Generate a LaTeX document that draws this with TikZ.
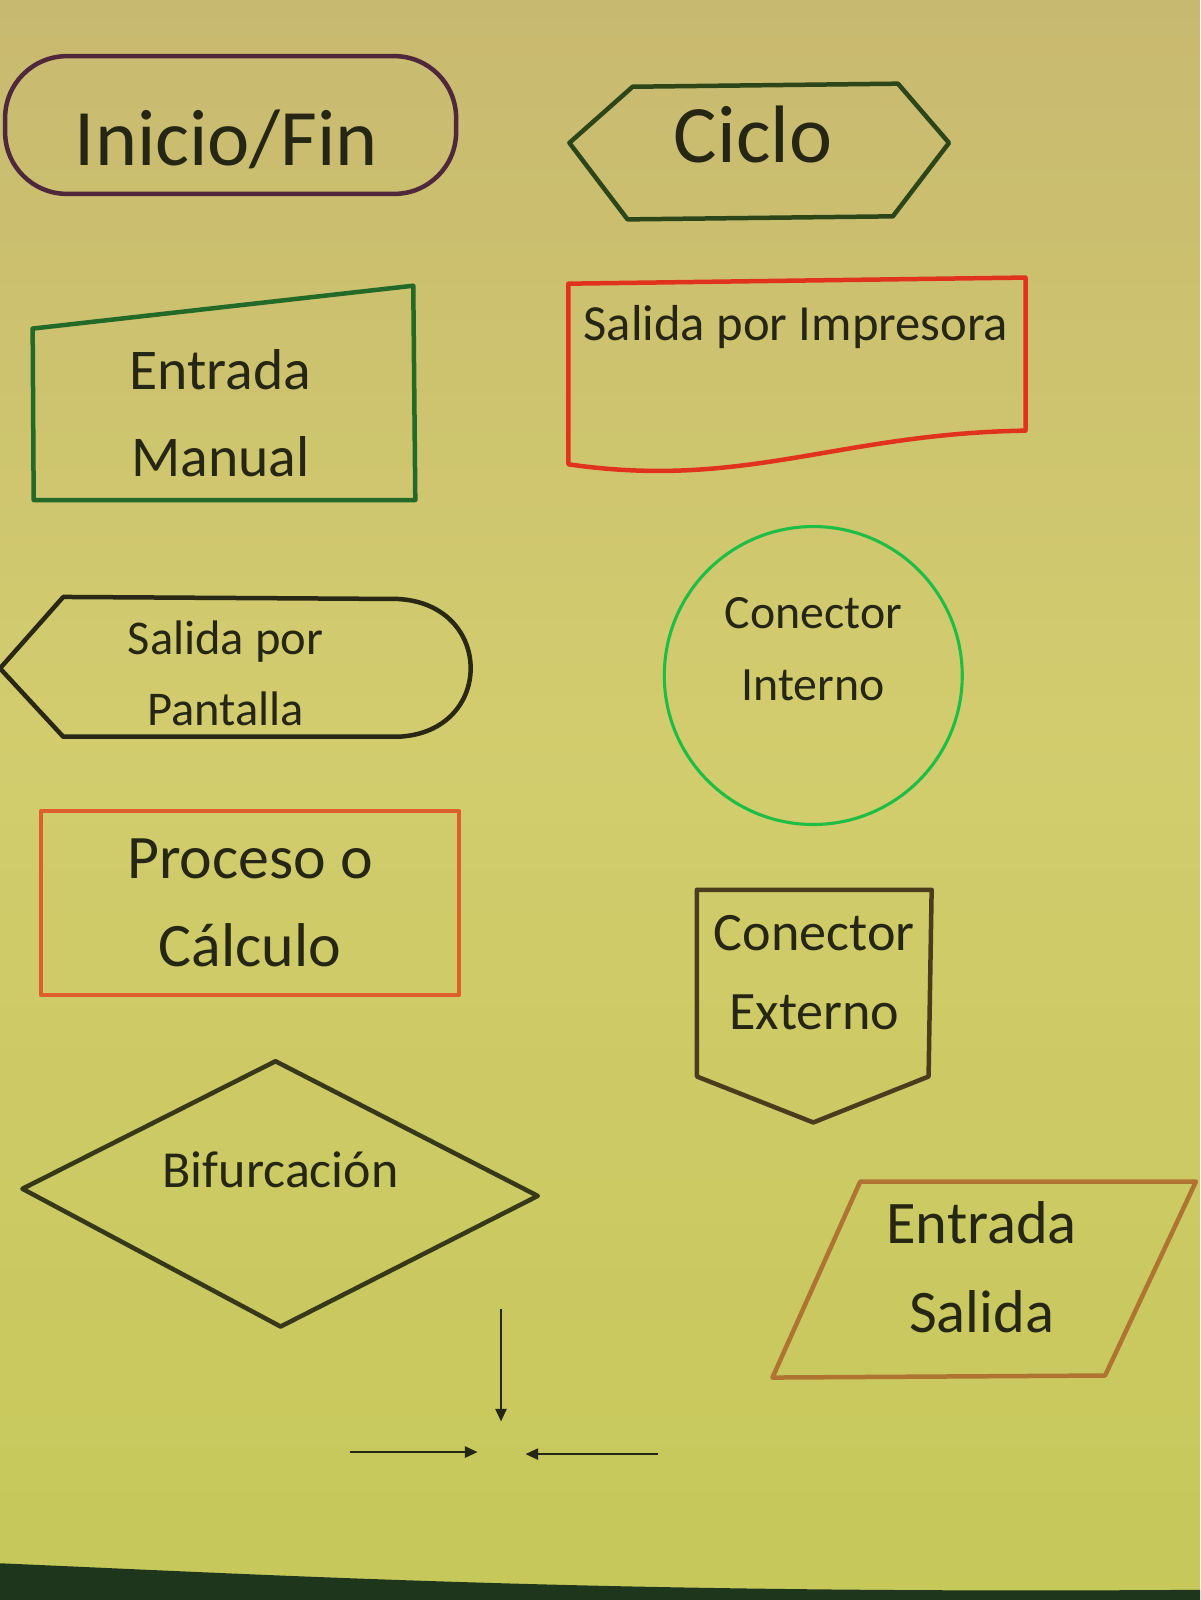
\documentclass[tikz,border=0pt]{standalone}
\usepackage{fontspec}
\setmainfont{Carlito}
\usetikzlibrary{arrows.meta}
\definecolor{txt}{RGB}{38,38,20}
\definecolor{cInicio}{RGB}{80,40,60}
\definecolor{cCiclo}{RGB}{45,70,25}
\definecolor{cManual}{RGB}{35,105,40}
\definecolor{cImpr}{RGB}{225,50,30}
\definecolor{cPant}{RGB}{40,40,20}
\definecolor{cInt}{RGB}{30,190,70}
\definecolor{cProc}{RGB}{220,95,45}
\definecolor{cExt}{RGB}{75,60,30}
\definecolor{cBif}{RGB}{55,55,25}
\definecolor{cES}{RGB}{175,115,50}
\definecolor{bgTop}{RGB}{200,185,112}
\definecolor{bgMid}{RGB}{210,204,110}
\definecolor{bgBot}{RGB}{198,200,90}
\definecolor{bgStrip}{RGB}{30,55,28}
\tikzset{
  shp/.style={line width=3.2pt, line join=round},
  lbl/.style={text=txt, align=center, inner sep=0pt},
  conn/.style={line width=1.4pt, draw=txt, -{Triangle[length=9pt,width=8pt]}},
}
\begin{document}
\begin{tikzpicture}[x=0.02551cm,y=-0.02551cm]
\useasboundingbox (0,0) rectangle (1176,1568);
\shade[top color=bgTop, bottom color=bgMid] (0,0) rectangle (1176,700);
\shade[top color=bgMid, bottom color=bgBot] (0,700) rectangle (1176,1568);
\fill[bgStrip] (0,1532) .. controls (300,1545) and (600,1562) .. (1176,1558) -- (1176,1568) -- (0,1568) -- cycle;

% Inicio/Fin
\draw[shp, draw=cInicio, rounded corners=44pt] (5,55) rectangle (447,190);
\node[lbl, font=\fontsize{57}{60}\selectfont] (inicio) at (222,137) {Inicio/Fin};

% Ciclo
\draw[shp, draw=cCiclo] (558,140) -- (620,85) -- (880,82) -- (930,140) -- (875,212) -- (615,215) -- cycle;
\node[lbl, font=\fontsize{58}{62}\selectfont] (ciclo) at (738,132) {Ciclo};

% Entrada Manual
\draw[shp, draw=cManual] (32,322) -- (405,280) -- (407,490) -- (33,490) -- cycle;
\node[lbl, font=\fontsize{41}{62}\selectfont] (manual) at (216,405) {Entrada\\Manual};

% Salida por Impresora
\draw[shp, draw=cImpr] (557,278) -- (1005,272) -- (1005,422) .. controls (820,425) and (730,480) .. (557,455) -- cycle;
\node[lbl, font=\fontsize{36}{40}\selectfont] (impr) at (780,320) {Salida por Impresora};

% Salida por Pantalla
\draw[shp, draw=cPant] (0,655) -- (62,585) -- (390,587) .. controls (485,592) and (485,718) .. (390,722) -- (62,722) -- cycle;
\node[lbl, font=\fontsize{34.5}{50}\selectfont] (pant) at (221,660) {Salida por\\Pantalla};

% Conector Interno
\draw[line width=2.2pt, draw=cInt] (797,662) circle [radius=146];
\node[lbl, font=\fontsize{34}{51}\selectfont] (cint) at (797,636) {Conector\\Interno};

% Proceso o Calculo
\draw[shp, draw=cProc] (40,795) rectangle (450,975);
\node[lbl, font=\fontsize{44}{63}\selectfont] (proc) at (245,885) {Proceso o\\Cálculo};

% Conector Externo
\draw[shp, draw=cExt] (683,872) -- (913,872) -- (910,1055) -- (797,1100) -- (683,1055) -- cycle;
\node[lbl, font=\fontsize{38.5}{56}\selectfont] (cext) at (798,953) {Conector\\Externo};

% Bifurcacion
\draw[shp, draw=cBif] (22,1165) -- (270,1040) -- (527,1172) -- (275,1300) -- cycle;
\node[lbl, font=\fontsize{37}{40}\selectfont] (bif) at (275,1146) {Bifurcación};

% Entrada Salida
\draw[shp, draw=cES] (843,1158) -- (1172,1158) -- (1083,1348) -- (757,1350) -- cycle;
\node[lbl, font=\fontsize{43}{63}\selectfont] (es) at (962,1242) {Entrada\\Salida};

% Arrows
\coordinate (vA) at (491,1283);
\coordinate (vB) at (491,1393);
\coordinate (hA) at (343,1423);
\coordinate (hB) at (468,1423);
\coordinate (rA) at (645,1425);
\coordinate (rB) at (515,1425);
\draw[conn] (vA) -- (vB);
\draw[conn] (hA) -- (hB);
\draw[conn] (rA) -- (rB);
\end{tikzpicture}
\end{document}
